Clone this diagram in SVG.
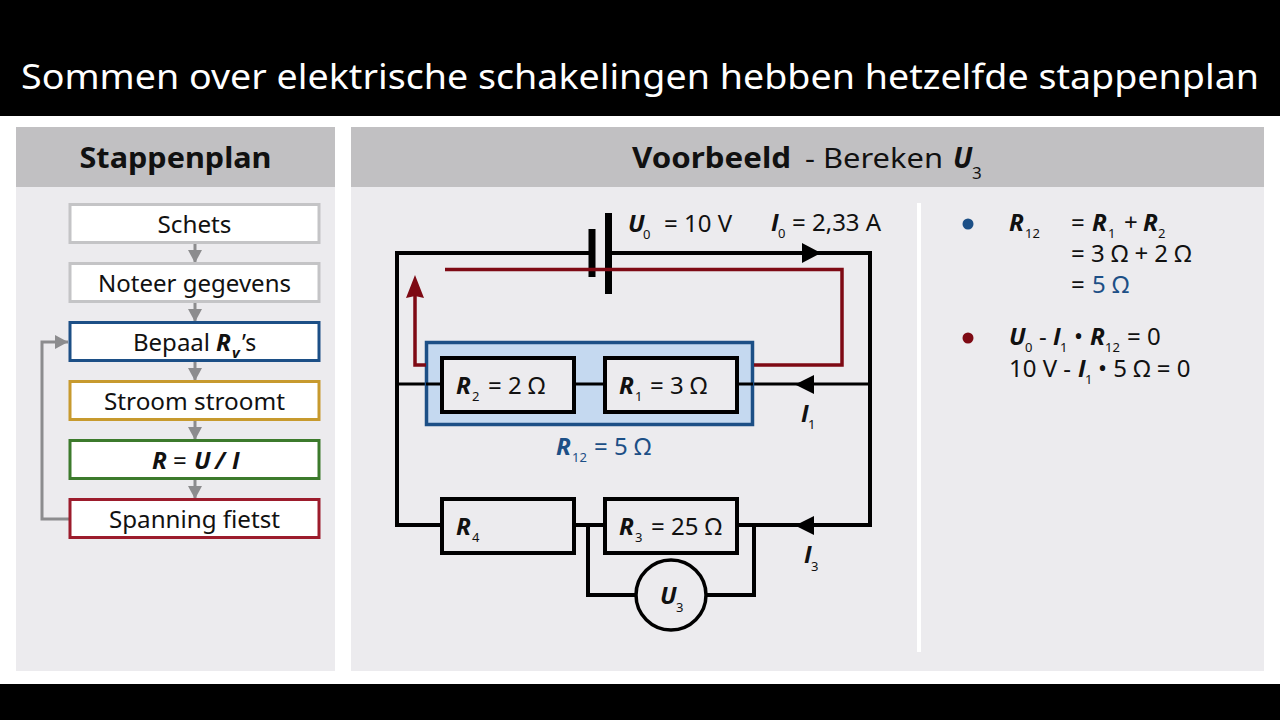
<svg xmlns="http://www.w3.org/2000/svg" width="1280" height="720" viewBox="0 0 1280 720">
<defs>
<marker id="ga" markerUnits="userSpaceOnUse" markerWidth="13" markerHeight="14" refX="13" refY="7" orient="auto"><path d="M0 0L13 7L0 14Z" fill="#8c8c8e"/></marker>
</defs>
<style>
text{font-family:"Noto Sans","Open Sans","Liberation Sans",sans-serif;fill:#111;font-size:24px}
.b{font-weight:700}
.v{font-weight:700;font-style:italic}
.i{font-family:"Open Sans","Noto Sans",sans-serif}
.s{font-size:13px;font-weight:400;font-style:normal}
.sv{font-size:15px;font-weight:700;font-style:italic}
.m{text-anchor:middle}
.box{fill:#fff;stroke-width:3}
.w{fill:none;stroke:#000;stroke-width:4;stroke-linejoin:miter;stroke-linecap:square}
.res{fill:#ecebee;stroke:#000;stroke-width:4}
.g{fill:none;stroke:#8c8c8e;stroke-width:3}
.blue{fill:#1c4f86}
</style>
<rect width="1280" height="720" fill="#fff"/>
<rect width="1280" height="116" fill="#000"/>
<rect y="684" width="1280" height="36" fill="#000"/>
<text x="640" y="89" class="m" style="fill:#fff;font-size:35px" textLength="1238" lengthAdjust="spacingAndGlyphs">Sommen over elektrische schakelingen hebben hetzelfde stappenplan</text>

<g id="panel-left">
<rect x="16" y="127" width="319" height="544" fill="#ecebee"/>
<rect x="16" y="127" width="319" height="60" fill="#c1c0c2"/>
<text x="175.500" y="168" class="b m" style="font-size:28px" textLength="192" lengthAdjust="spacingAndGlyphs">Stappenplan</text>
</g>
<g id="panel-right">
<rect x="351" y="127" width="913" height="544" fill="#ecebee"/>
<rect x="351" y="127" width="913" height="60" fill="#c1c0c2"/>
<text x="632" y="168" class="b" style="font-size:28px" textLength="159" lengthAdjust="spacingAndGlyphs">Voorbeeld</text>
<text x="805" y="168" style="font-size:27px" textLength="138" lengthAdjust="spacingAndGlyphs">- Bereken</text>
<text y="168" style="font-size:28px"><tspan x="953" class="v">U</tspan><tspan x="972" dy="11" style="font-size:17px">3</tspan></text>
<rect x="917" y="203" width="4" height="449" fill="#fff"/>
</g>

<g id="step-connectors">
<path class="g" d="M195 243V263" marker-end="url(#ga)"/>
<path class="g" d="M195 302V322" marker-end="url(#ga)"/>
<path class="g" d="M195 361V381" marker-end="url(#ga)"/>
<path class="g" d="M195 420V440" marker-end="url(#ga)"/>
<path class="g" d="M195 479V499" marker-end="url(#ga)"/>
<path class="g" d="M70 519H42V342H68" marker-end="url(#ga)"/>
</g>
<g id="step-schets"><rect class="box" x="70" y="204.500" width="249" height="38" stroke="#c4c4c6"/><text x="194.500" y="232.500" class="m" textLength="74" lengthAdjust="spacingAndGlyphs">Schets</text></g>
<g id="step-gegevens"><rect class="box" x="70" y="263.500" width="249" height="38" stroke="#c4c4c6"/><text x="194.500" y="291.500" class="m" textLength="193" lengthAdjust="spacingAndGlyphs">Noteer gegevens</text></g>
<g id="step-rv"><rect class="box" x="70" y="322.500" width="249" height="38" stroke="#1c4f86"/><text y="350.500"><tspan x="133" textLength="77" lengthAdjust="spacingAndGlyphs">Bepaal</tspan><tspan x="216" class="v">R</tspan><tspan x="232" dy="7" class="sv">v</tspan><tspan x="242" dy="-7" style="font-size:23px">’s</tspan></text></g>
<g id="step-stroom"><rect class="box" x="70" y="381.500" width="249" height="38" stroke="#c79a2e"/><text x="194.500" y="410" class="m" textLength="181" lengthAdjust="spacingAndGlyphs">Stroom stroomt</text></g>
<g id="step-rui"><rect class="box" x="70" y="440.500" width="249" height="38" stroke="#3c7a2c"/><text y="468.500"><tspan x="152" class="v">R</tspan><tspan x="173">=</tspan><tspan x="194" class="v">U</tspan><tspan x="215" class="v">/</tspan><tspan x="232" class="v i">I</tspan></text></g>
<g id="step-spanning"><rect class="box" x="70" y="499.500" width="249" height="38" stroke="#9c1c2c"/><text x="194.500" y="527.500" class="m" textLength="171" lengthAdjust="spacingAndGlyphs">Spanning fietst</text></g>

<g id="connectors">
<path class="w" d="M592 253H397V525H442M609 253H870V525H737M574 525H604M588 525V595H636M754 525V595H706"/>
<path d="M397 384H442M737 384H870" stroke="#000" stroke-width="3" fill="none"/>
<path d="M802 243L821 253L802 263Z M814 375L795 384.500L814 394Z M814 516L795 525.500L814 535Z" fill="#000"/>
<path d="M592 229V277M608.500 213V294" stroke="#000" stroke-width="7" fill="none"/>
</g>
<g id="group-r12">
<rect x="426.500" y="342.500" width="326" height="82" fill="#c5d9f0" stroke="#1c4f86" stroke-width="3.500"/>
<path d="M426 384H442M574 384H604M737 384H753" stroke="#000" stroke-width="3"/>
<text y="455" class="blue"><tspan x="556" class="v blue">R</tspan><tspan x="572" dy="7" class="s blue">12</tspan><tspan x="594" dy="-7" class="blue">= 5 Ω</tspan></text>
</g>
<g id="kvl-loop">
<path d="M445 269.500H842V365H754" fill="none" stroke="#7e0a14" stroke-width="3.500"/>
<path d="M426 365H415V292" fill="none" stroke="#7e0a14" stroke-width="3.500"/>
<path d="M415 275L424 298L415 296L406 298Z" fill="#7e0a14"/>
</g>
<g id="r2"><rect class="res" x="442" y="358" width="132" height="54"/><text y="394"><tspan x="456" class="v">R</tspan><tspan x="472" dy="7" class="s">2</tspan><tspan x="488" dy="-7">= 2 Ω</tspan></text></g>
<g id="r1"><rect class="res" x="605" y="358" width="132" height="54"/><text y="394"><tspan x="619" class="v">R</tspan><tspan x="635" dy="7" class="s">1</tspan><tspan x="650" dy="-7">= 3 Ω</tspan></text></g>
<g id="r4"><rect class="res" x="442" y="499" width="132" height="54"/><text y="535"><tspan x="456" class="v">R</tspan><tspan x="472" dy="7" class="s">4</tspan></text></g>
<g id="r3"><rect class="res" x="605" y="499" width="132" height="54"/><text y="535"><tspan x="619" class="v">R</tspan><tspan x="635" dy="7" class="s">3</tspan><tspan x="651" dy="-7">= 25 Ω</tspan></text></g>
<g id="u3"><circle cx="671" cy="595" r="35" fill="#ecebee" stroke="#000" stroke-width="3.500"/><text y="604"><tspan x="660" class="v">U</tspan><tspan x="676" dy="8" class="s">3</tspan></text></g>
<g id="labels">
<text y="232"><tspan x="628" class="v">U</tspan><tspan x="643" dy="7" class="s">0</tspan><tspan x="664" dy="-7">= 10 V</tspan></text>
<text y="231"><tspan x="771" class="v i">I</tspan><tspan x="778" dy="7" class="s">0</tspan><tspan x="792" dy="-7">= 2,33 A</tspan></text>
<text y="422"><tspan x="801" class="v i">I</tspan><tspan x="808" dy="7" class="s">1</tspan></text>
<text y="563"><tspan x="804" class="v i">I</tspan><tspan x="811" dy="8" class="s">3</tspan></text>
</g>
<g id="calc">
<circle cx="968" cy="224" r="5.500" fill="#1c4f86"/>
<circle cx="968" cy="338" r="5.500" fill="#7e0a14"/>
<text y="231"><tspan x="1009" class="v">R</tspan><tspan x="1025" dy="7" class="s">12</tspan><tspan x="1071" dy="-7">=</tspan><tspan x="1092" class="v">R</tspan><tspan x="1108" dy="7" class="s">1</tspan><tspan x="1124" dy="-7">+</tspan><tspan x="1143" class="v">R</tspan><tspan x="1158" dy="7" class="s">2</tspan></text>
<text x="1071" y="262">= 3 Ω + 2 Ω</text>
<text y="293"><tspan x="1071">=</tspan><tspan x="1092" class="blue">5 Ω</tspan></text>
<text y="345"><tspan x="1009" class="v">U</tspan><tspan x="1025" dy="7" class="s">0</tspan><tspan x="1039" dy="-7">-</tspan><tspan x="1053" class="v i">I</tspan><tspan x="1060" dy="7" class="s">1</tspan><tspan x="1074" dy="-7">•</tspan><tspan x="1090" class="v">R</tspan><tspan x="1105" dy="7" class="s">12</tspan><tspan x="1127" dy="-7">= 0</tspan></text>
<text y="377"><tspan x="1009">10 V -</tspan><tspan x="1078" class="v i">I</tspan><tspan x="1085" dy="7" class="s">1</tspan><tspan x="1098" dy="-7">• 5 Ω = 0</tspan></text>
</g>
</svg>
